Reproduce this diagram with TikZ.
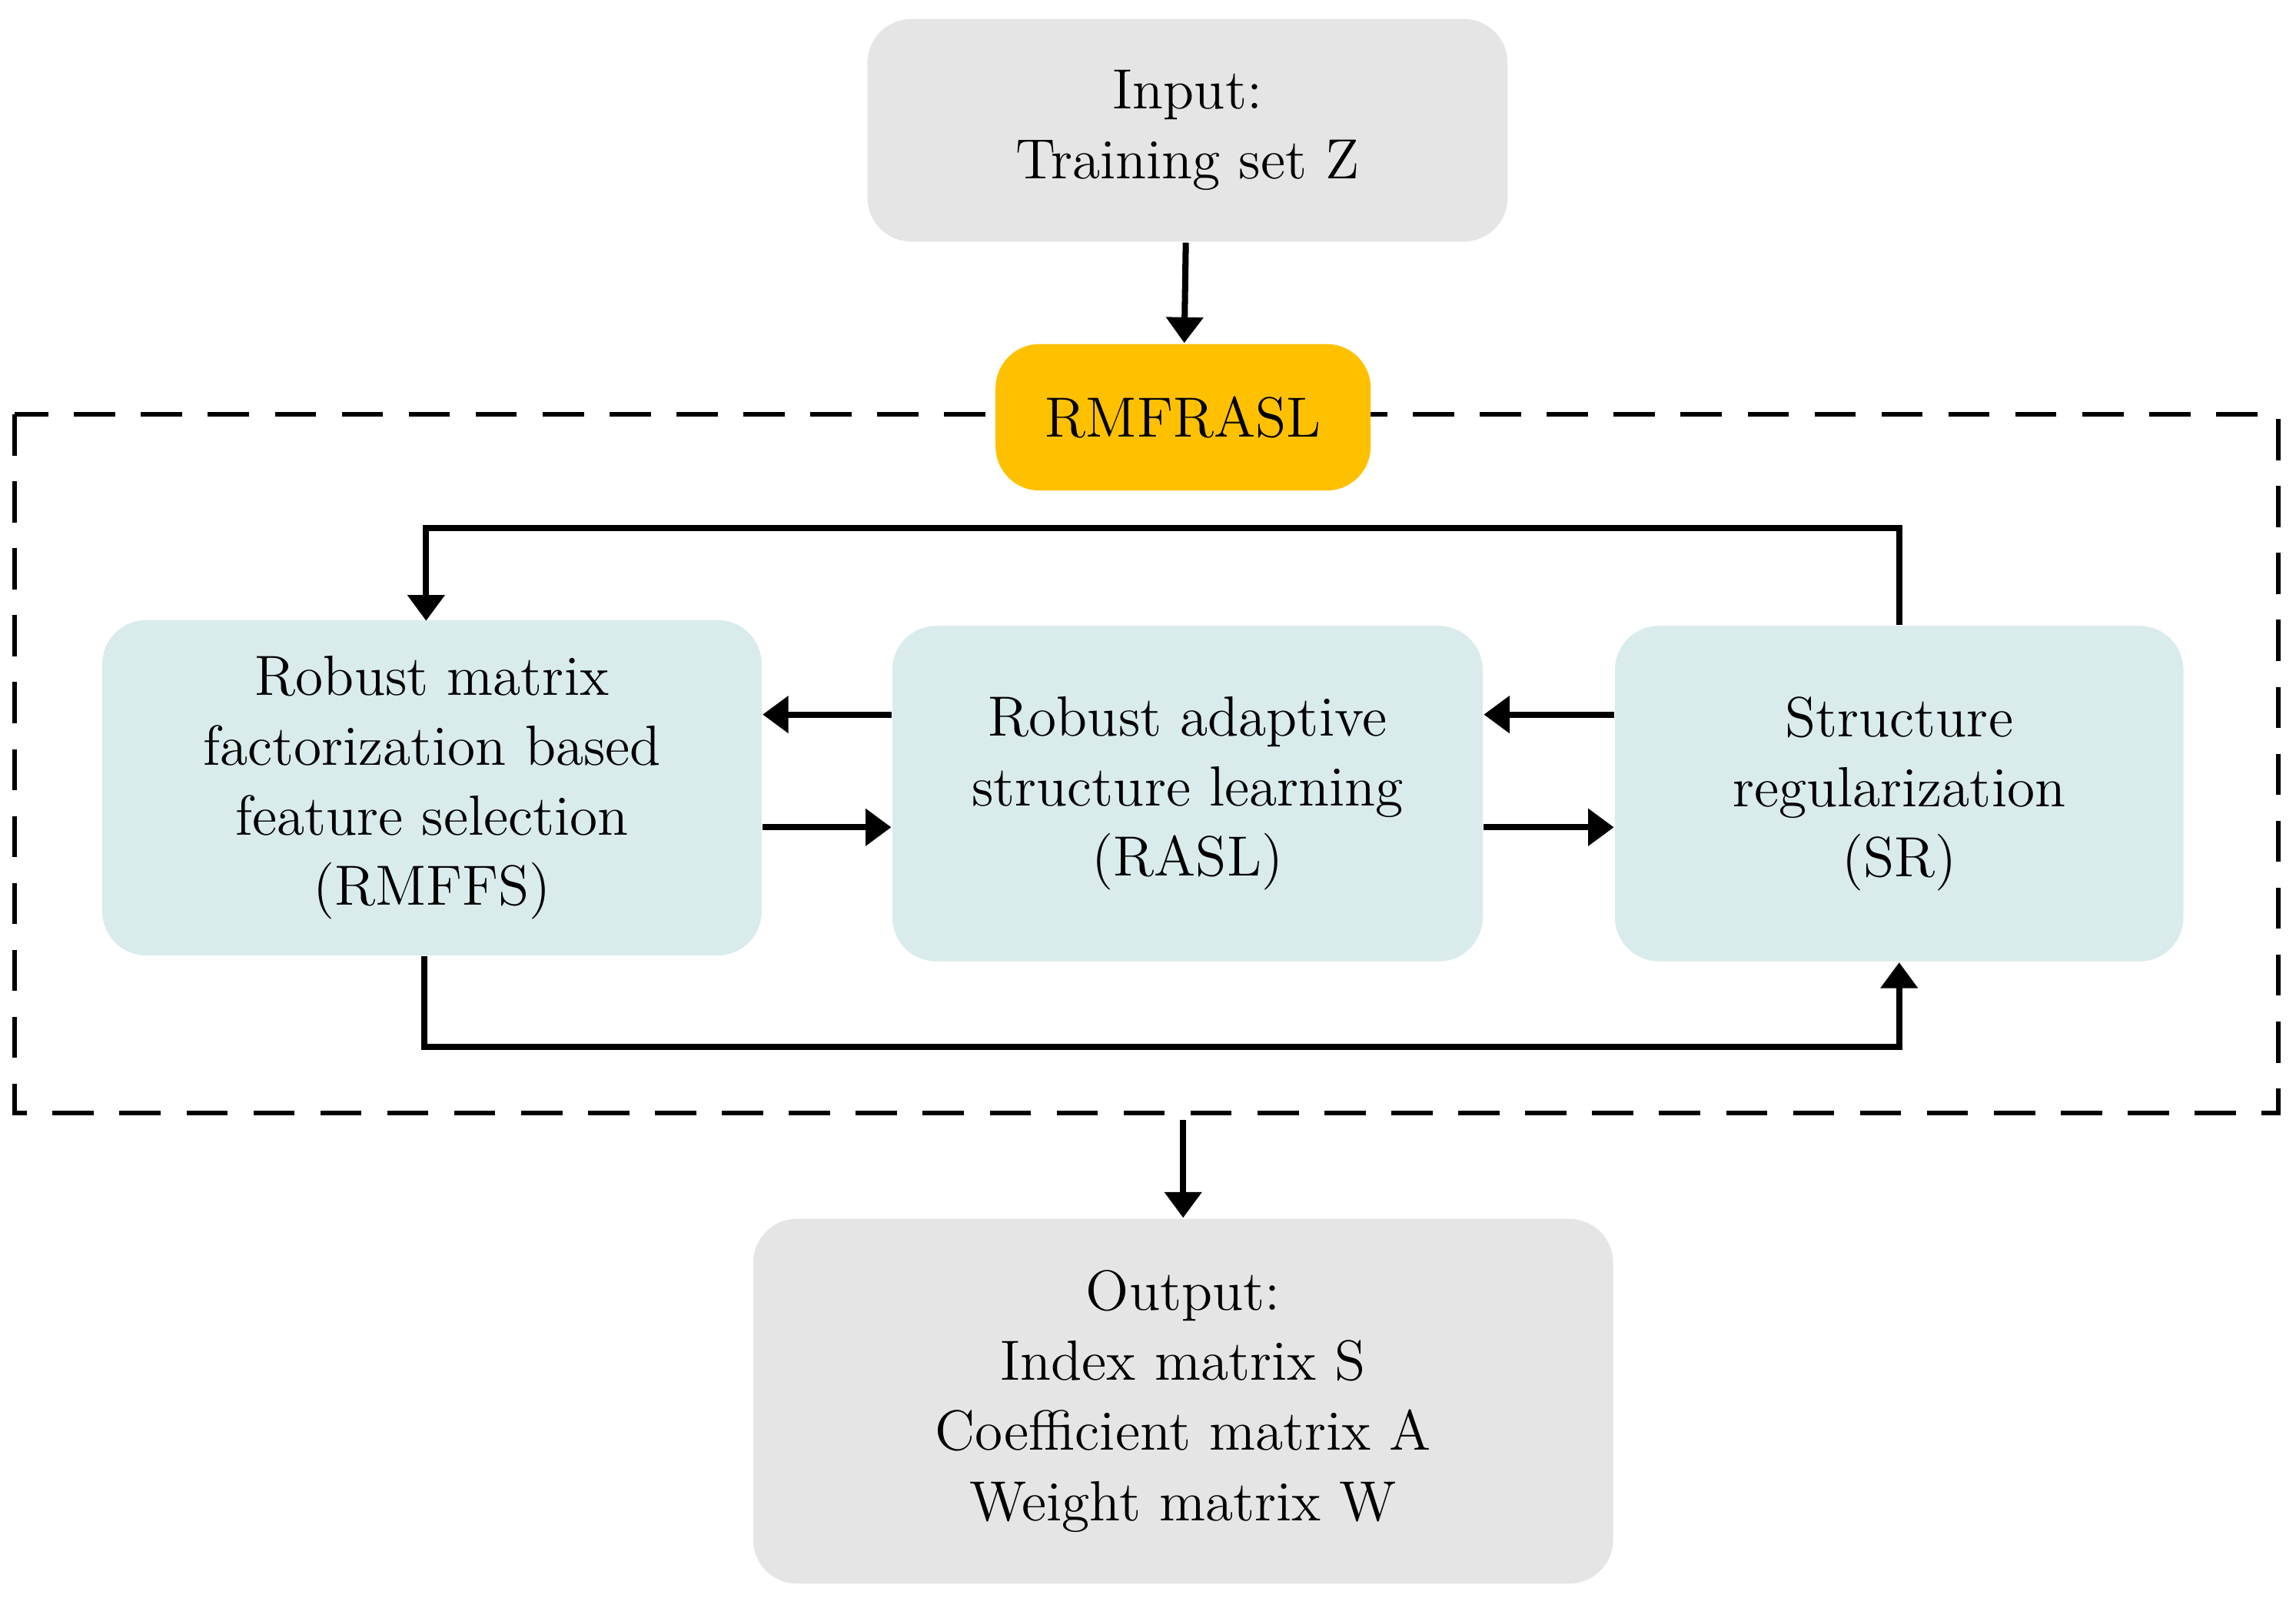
\documentclass[tikz,border=0pt]{standalone}
\usepackage{mathpazo}
\usetikzlibrary{arrows.meta}
\begin{document}
\begin{tikzpicture}[x=0.01cm,y=-0.01cm,
  box/.style={rounded corners=0.3cm,align=center,inner sep=0pt,
    font=\fontsize{11}{13.6}\selectfont\bfseries},
  gray/.style={box,fill=black!10},
  blue/.style={box,fill={rgb,255:red,218;green,235;blue,236}},
  arr/.style={-{Triangle[length=5pt,width=7pt]},line width=1.2pt}]
\useasboundingbox (0,0) rectangle (1568,1098);
\draw[line width=0.9pt,dash pattern=on 8pt off 5pt] (10,283) rectangle (1556,760);
\node[gray,minimum width=4.37cm,minimum height=1.52cm] (in) at (811,89) {Input:\\Training set \textit{Z}};
\node[box,fill={rgb,255:red,255;green,192;blue,0},minimum width=2.56cm,minimum height=1.0cm] (rm) at (808,285) {RMFRASL};
\node[blue,minimum width=4.5cm,minimum height=2.29cm] (l) at (295,538) {Robust matrix\\factorization based\\feature selection\\(RMFFS)};
\node[blue,minimum width=4.03cm,minimum height=2.29cm] (m) at (811,542) {Robust adaptive\\structure learning\\(RASL)};
\node[blue,minimum width=3.88cm,minimum height=2.29cm] (r) at (1297,542) {Structure\\regularization\\(SR)};
\node[gray,minimum width=5.87cm,minimum height=2.49cm] (out) at (808,957) {Output:\\Index matrix \textit{S}\\Coefficient matrix \textit{A}\\Weight matrix \textit{W}};
\coordinate (dn) at (808,765);
\draw[arr] (in) -- (rm);
\draw[arr] (dn) -- (out);
\draw[arr] (m.west |- 0,488) -- (l.east |- 0,488);
\draw[arr] (l.east |- 0,565) -- (m.west |- 0,565);
\draw[arr] (r.west |- 0,488) -- (m.east |- 0,488);
\draw[arr] (m.east |- 0,565) -- (r.west |- 0,565);
\draw[arr] (r.north) -- ++(0,-66) -| (291,424);
\draw[arr] (290,653) -- (290,715) -| (r.south);
\end{tikzpicture}
\end{document}
